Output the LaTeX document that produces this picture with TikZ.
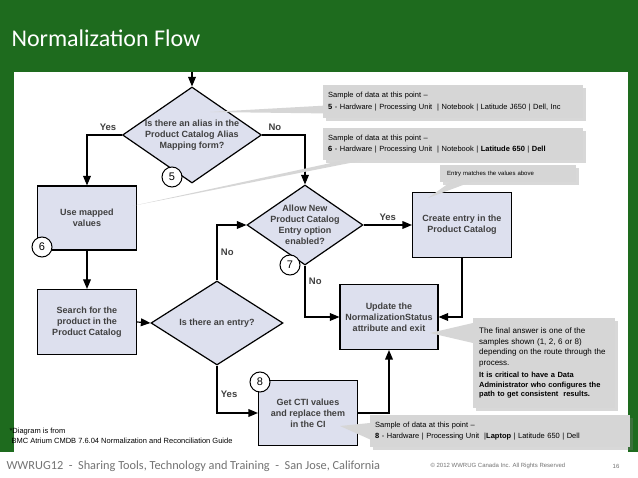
\documentclass[tikz,border=0pt]{standalone}
\usepackage{fontspec}
\setmainfont{Liberation Sans}
\newfontfamily\calfont{Carlito}
\usetikzlibrary{shapes.geometric,positioning,shadows,arrows}
\definecolor{boxfill}{HTML}{DDE0EE}
\definecolor{callfill}{HTML}{D6D6D6}
\definecolor{slidegreen}{HTML}{1E6B1E}
\tikzset{
  flowtext/.style={align=center, font=\fontsize{9}{11}\selectfont\bfseries, text=black!75},
  flowbox/.style={draw, line width=1.2pt, fill=boxfill, flowtext},
  decision/.style={diamond, draw, line width=1.2pt, fill=boxfill, inner sep=0pt},
  stepno/.style={circle, draw, line width=1pt, fill=white, minimum size=20pt, inner sep=0pt, font=\fontsize{11}{11}\selectfont},
  flowlabel/.style={font=\fontsize{9.5}{11}\selectfont\bfseries, text=black!75},
  callout/.style={fill=callfill, drop shadow={opacity=0.3}, align=left, inner sep=5pt, font=\fontsize{7.5}{10.5}\selectfont},
  pointer/.style={fill=callfill, draw=none},
  flow/.style={line width=1.2pt, -triangle 45}
}
\begin{document}
\begin{tikzpicture}[x=1pt,y=-1pt]
\useasboundingbox (0,0) rectangle (638,478);
% slide background
\fill[slidegreen] (0,0) rectangle (638,478);
\fill[white] (14,72) rectangle (628,452);
\fill[white] (0,452) rectangle (638,478);
\node[anchor=west, text=white, font=\calfont\fontsize{24}{28}\selectfont] (title) at (8,38) {Normalization Flow};

% flowchart nodes
\node[decision, minimum width=139pt, minimum height=96pt, label={[flowtext]center:Is there an alias in the\\Product Catalog Alias\\Mapping form?}] (alias) at (192,135) {};
\node[stepno] (s5) at (172,177) {5};
\node[flowbox, minimum width=99pt, minimum height=64pt] (mapped) at (87,218) {Use mapped\\values};
\node[stepno] (s6) at (42,247) {6};
\node[flowbox, minimum width=99pt, minimum height=65pt] (search) at (87,322) {Search for the\\product in the\\Product Catalog};
\node[decision, minimum width=132pt, minimum height=84pt, label={[flowtext]center:Is there an entry?}] (entry) at (217,323) {};
\node[decision, minimum width=116pt, minimum height=80pt, label={[flowtext]center:Allow New\\Product Catalog\\Entry option\\enabled?}] (allow) at (305,225) {};
\node[stepno] (s7) at (290,265) {7};
\node[flowbox, minimum width=99pt, minimum height=65pt] (create) at (462,225) {Create entry in the\\Product Catalog};
\node[flowbox, minimum width=98pt, minimum height=65pt] (update) at (389,317) {Update the\\NormalizationStatus\\attribute and exit};
\node[flowbox, minimum width=99pt, minimum height=65pt] (cti) at (308,413) {Get CTI values\\and replace them\\in the CI};
\node[stepno] (s8) at (260,382) {8};
\coordinate (start) at (192,72);

% connectors
\draw[flow] (start) -- (alias.north);
\draw[flow] (alias.west) -| node[flowlabel, pos=0.2, above] {Yes} (mapped.north);
\draw[flow] (alias.east) -| node[flowlabel, pos=0.15, above] {No} (allow.north);
\draw[flow] (mapped.south) -- (search.north);
\draw[flow] (search.east) -- (entry.west);
\draw[flow] (entry.north) |- node[flowlabel, pos=0.25, right] {No} (allow.west);
\draw[flow] (entry.south) |- node[flowlabel, pos=0.3, right] {Yes} (cti.west);
\draw[flow] (allow.east) -- node[flowlabel, above] {Yes} (create.west);
\draw[flow] (allow.south) |- node[flowlabel, pos=0.15, right] {No} (update.west);
\draw[flow] (create.south) |- (update.east);
\draw[flow] (cti.east) -| (update.south);

% callouts
\node[callout, anchor=north west, text width=250pt, minimum height=33pt] (c1) at (323,85) {Sample of data at this point --\\[1pt]\textbf{5} - Hardware {\textbar} Processing Unit \ {\textbar} Notebook {\textbar} Latitude J650 {\textbar} Dell, Inc};
\node[callout, anchor=north west, text width=250pt, minimum height=32pt] (c2) at (323,128) {Sample of data at this point --\\[1pt]\textbf{6} - Hardware {\textbar} Processing Unit \ {\textbar} Notebook {\textbar} \textbf{Latitude 650} {\textbar} \textbf{Dell}};
\node[callout, anchor=north west, text width=130pt, minimum height=17pt, inner sep=3pt, font=\fontsize{6}{7}\selectfont] (c3) at (440,165) {\hspace{4pt}Entry matches the values above};
\node[callout, anchor=north west, text width=130pt, minimum height=90pt, inner sep=6pt] (c4) at (473,318) {\raggedright\fontsize{8}{10.5}\selectfont The final answer is one of the samples shown (1, 2, 6 or 8) depending on the route through the process.\par\vspace{3pt}{\fontsize{7.5}{9.5}\selectfont\bfseries It is critical to have a Data Administrator who configures the path to get consistent \ results.\par}};
\node[callout, anchor=north west, text width=250pt, minimum height=32pt] (c5) at (370,415) {Sample of data at this point --\\[1pt]\textbf{8} - Hardware {\textbar} Processing Unit \ {\textbar}\textbf{Laptop} {\textbar} Latitude 650 {\textbar} Dell};
\coordinate (p1) at (210,112);
\coordinate (p2) at (132,206);
\coordinate (p3) at (428,198);
\coordinate (p4) at (430,333);
\coordinate (p5) at (340,426);
\fill[pointer] (p1) -- ([yshift=-4pt]c1.west) -- ([yshift=5pt]c1.south west) -- cycle;
\fill[pointer] (p2) -- ([xshift=20pt]c2.south west) -- ([xshift=40pt]c2.south west) -- cycle;
\fill[pointer] (p3) -- ([xshift=10pt]c3.south west) -- ([xshift=30pt]c3.south west) -- cycle;
\fill[pointer] (p4) -- ([yshift=-5pt]c4.north west) -- ([yshift=-25pt]c4.north west) -- cycle;
\fill[pointer] (p5) -- ([yshift=-8pt]c5.north west) -- ([yshift=8pt]c5.south west) -- cycle;

% source note and footer
\node[anchor=north west, align=left, font=\fontsize{7.5}{9.5}\selectfont] (source) at (6,425) {*Diagram is from\\ \ BMC Atrium CMDB 7.6.04 Normalization and Reconciliation Guide};
\node[anchor=west, text=black!55, font=\calfont\fontsize{12.3}{14}\selectfont] (footer) at (3,466) {WWRUG12 \ - \ Sharing Tools, Technology and Training \ - \ San Jose, California};
\node[anchor=west, text=black!55, font=\fontsize{6}{7}\selectfont] (copy) at (427,466) {\textcopyright\ 2012 WWRUG Canada Inc. All Rights Reserved};
\node[text=black!55, font=\fontsize{6}{7}\selectfont] (page) at (616,466) {16};
\end{tikzpicture}
\end{document}
